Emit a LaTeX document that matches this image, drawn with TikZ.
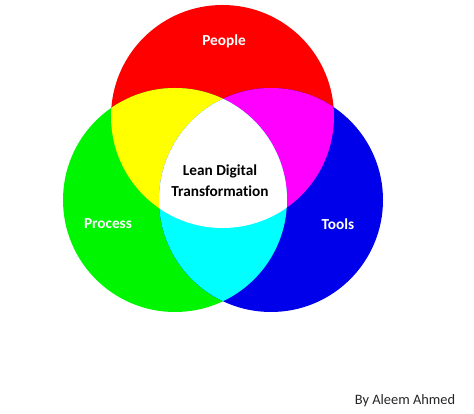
\documentclass[tikz,border=0pt]{standalone}
\usepackage{fontspec}
\setmainfont{Carlito}[Ligatures=NoCommon]
\usepackage{tikz}
\usetikzlibrary{positioning}
\definecolor{vred}{RGB}{255,0,0}
\definecolor{vgreen}{RGB}{0,245,0}
\definecolor{vblue}{RGB}{0,0,235}
\definecolor{vyellow}{RGB}{255,255,0}
\definecolor{vmagenta}{RGB}{255,0,255}
\definecolor{vcyan}{RGB}{0,255,255}
\tikzset{label/.style={text=white,font=\bfseries\fontsize{15.3}{21}\selectfont}}
\newcommand{\Rcirc}{(222.5,297.5) circle (111.5)}
\newcommand{\Gcirc}{(175,214) circle (112)}
\newcommand{\Bcirc}{(271,214) circle (112)}

\begin{document}
\begin{tikzpicture}[x=1pt,y=1pt]
\useasboundingbox[fill=white] (0,0) rectangle (474,414);
% the three circles
\fill[vred] \Rcirc;
\fill[vgreen] \Gcirc;
\fill[vblue] \Bcirc;
%
\begin{scope}
\clip \Rcirc;
\fill[vyellow] \Gcirc;
\fill[vmagenta] \Bcirc;
\end{scope}
\begin{scope}
\clip \Gcirc;
\fill[vcyan] \Bcirc;
\clip \Rcirc;
\fill[white] \Bcirc;
\end{scope}
%
\node (people) [label] at (224,373) {People};
\node (process) [label] at (108,190) {Process};
\node (tools) [label] at (338,190) {Tools};
\node (ldt) [label,text=black,align=center] at (220,233.5) {Lean Digital\\Transformation};
\node (author) [font=\fontsize{14.4}{16}\selectfont,text=black!85] at (405,13) {By Aleem Ahmed};
\end{tikzpicture}
\end{document}
